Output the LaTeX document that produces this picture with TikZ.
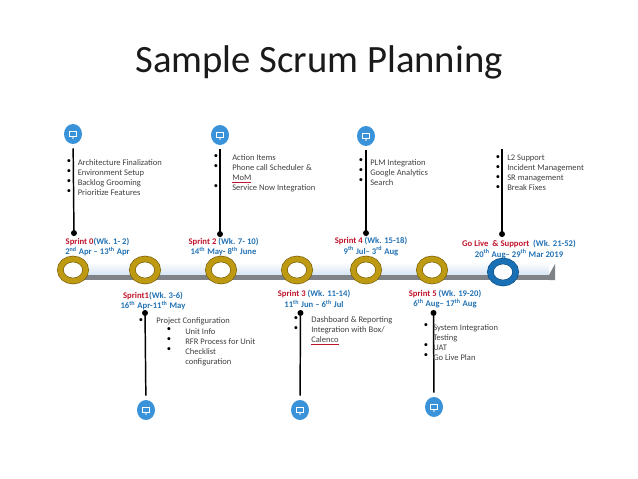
\documentclass[tikz,border=0pt]{standalone}
\usepackage{fontspec}
\setmainfont{Carlito}
\usepackage{tikz}
\usetikzlibrary{shapes.geometric,arrows.meta,positioning,calc}

\definecolor{sprintred}{HTML}{C0142C}
\definecolor{sprintblue}{HTML}{2272B4}
\definecolor{listgray}{HTML}{404040}
\definecolor{ringgold}{HTML}{7A6008}
\definecolor{ringlight}{HTML}{BD9A12}
\definecolor{ringblue}{HTML}{0B4F86}
\definecolor{ringsky}{HTML}{1A70B4}
\definecolor{iconblue}{HTML}{3A92D8}
\definecolor{barblue}{HTML}{D6E4F4}
\definecolor{bargray}{HTML}{7F8287}

\tikzset{
  ringnode/.style={ellipse,draw=ringgold,line width=.5pt,double=ringlight,double distance=3.9pt,fill=white,minimum width=19pt,minimum height=16.5pt,inner sep=0pt},
  goliveringnode/.style={ringnode,draw=ringblue,double=ringsky},
  iconnode/.style={ellipse,fill=iconblue,minimum width=13.5pt,minimum height=15pt,inner sep=0pt,
    path picture={
      \draw[white,line width=.45pt] ([xshift=-2.8pt,yshift=-1.6pt]path picture bounding box.center) rectangle ([xshift=2.8pt,yshift=2.4pt]path picture bounding box.center);
      \fill[white] ([yshift=-3pt]path picture bounding box.center) circle (.6pt);
    }},
  sprintline/.style={line width=1.1pt,black,-{Circle[length=4.4pt]},shorten <=3pt},
  sprintlabel/.style={font=\fontsize{6.5}{8}\selectfont\bfseries,text=sprintblue,align=center,inner sep=0pt},
  listtext/.style={font=\fontsize{6.4}{7.6}\selectfont,text=listgray,align=left,anchor=north west,inner sep=0pt},
  bulletmark/.style={font=\fontsize{6.4}{7.6}\selectfont,text=black,align=left,anchor=north,inner sep=0pt},
}
\newcommand{\redwave}[1]{\textcolor{sprintred}{\underline{\textcolor{listgray}{#1}}}}

\begin{document}
\begin{tikzpicture}[x=.75pt,y=-.75pt]
  \useasboundingbox (0,0) rectangle (638,478);
  \node (title) at (319,62) {\fontsize{29}{32}\selectfont\color[HTML]{1A1A1A}Sample Scrum Planning};

  % timeline bar
  \shade[top color=white,bottom color=barblue] (73,262) rectangle (549,275);
  \fill[bargray] (73,275) rectangle (555,280);
  \fill[bargray] (549,275) -- (555,264) -- (555,280) -- (549,280) -- cycle;

  % rings
  \node[ringnode] (ringzero) at (73,270) {};
  \node[ringnode] (ringone) at (145,270) {};
  \node[ringnode] (ringtwo) at (221,270) {};
  \node[ringnode] (ringthree) at (297,270) {};
  \node[ringnode] (ringfour) at (366,270) {};
  \node[ringnode] (ringfive) at (432,270) {};
  \node[goliveringnode] (ringlive) at (503,272) {};

  % icons and stems
  \node[iconnode] (iconzero) at (73,134) {};
  \node[iconnode] (icontwo) at (220,135) {};
  \node[iconnode] (iconfour) at (366,136) {};
  \node[iconnode] (iconone) at (146,410) {};
  \node[iconnode] (iconthree) at (300,410) {};
  \node[iconnode] (iconfive) at (434,407) {};
  \coordinate (topzero) at (74,236);
  \coordinate (toptwo) at (220,237);
  \coordinate (topfour) at (366,236);
  \coordinate (toplive) at (502,237);
  \coordinate (startlive) at (502,149);
  \coordinate (topone) at (145,310);
  \coordinate (topthree) at (300.5,310);
  \coordinate (topfive) at (433.5,310);
  \draw[sprintline] (iconzero) -- (topzero);
  \draw[sprintline] (icontwo) -- (toptwo);
  \draw[sprintline] (iconfour) -- (topfour);
  \draw[sprintline,shorten <=0pt] (startlive) -- (toplive);
  \draw[sprintline] (iconone) -- (topone);
  \draw[sprintline] (iconthree) -- (topthree);
  \draw[sprintline] (iconfive) -- (topfive);

  % sprint labels
  \node[sprintlabel] (sprintzero) at (97.5,247) {\textcolor{sprintred}{Sprint 0}(Wk. 1- 2)\\2\textsuperscript{nd} Apr -- 13\textsuperscript{th} Apr};
  \node[sprintlabel] (sprinttwo) at (223.5,247) {\textcolor{sprintred}{Sprint 2} (Wk. 7- 10)\\14\textsuperscript{th} May- 8\textsuperscript{th} June};
  \node[sprintlabel] (sprintfour) at (371,246.5) {\textcolor{sprintred}{Sprint 4} (Wk. 15-18)\\9\textsuperscript{th} Jul-- 3\textsuperscript{rd} Aug};
  \node[sprintlabel] (sprintlive) at (519,249.5) {\textcolor{sprintred}{Go Live\ \ \& Support} \ (Wk. 21-52)\\20\textsuperscript{th} Aug-- 29\textsuperscript{th} Mar 2019};
  \node[sprintlabel] (sprintone) at (153,301) {\textcolor{sprintred}{Sprint1}(Wk. 3-6)\\16\textsuperscript{th} Apr-11\textsuperscript{th} May};
  \node[sprintlabel] (sprintthree) at (314,299) {\textcolor{sprintred}{Sprint 3} (Wk. 11-14)\\11\textsuperscript{th} Jun -- 6\textsuperscript{th} Jul};
  \node[sprintlabel] (sprintfive) at (445,299) {\textcolor{sprintred}{Sprint 5} (Wk. 19-20)\\6\textsuperscript{th} Aug-- 17\textsuperscript{th} Aug};

  % task lists
  \node[bulletmark] (markszero) at (69,159) {\textbullet\\\textbullet\\\textbullet\\\textbullet};
  \node[listtext] (taskszero) at (77.5,159) {Architecture Finalization\\Environment Setup\\Backlog Grooming\\Prioritize Features};
  \node[bulletmark] (markstwo) at (216,154) {\textbullet\\\textbullet\\\mbox{}\\\textbullet};
  \node[listtext] (taskstwo) at (232,154) {Action Items\\Phone call Scheduler \&\\\redwave{MoM}\\Service Now Integration};
  \node[bulletmark] (marksfour) at (361,158) {\textbullet\\\textbullet\\\textbullet};
  \node[listtext] (tasksfour) at (370,159) {PLM Integration\\Google Analytics\\Search};
  \node[bulletmark] (markslive) at (498,155) {\textbullet\\\textbullet\\\textbullet\\\textbullet};
  \node[listtext] (taskslive) at (507,154.5) {L2 Support\\Incident Management\\SR management\\Break Fixes};
  \node[bulletmark] (marksone) at (141,318) {\textbullet};
  \node[listtext] (tasksone) at (156,317.5) {Project Configuration};
  \node[bulletmark] (markssub) at (169,327) {\textbullet\\\textbullet\\\textbullet};
  \node[listtext] (taskssub) at (185,328) {Unit Info\\RFR Process for Unit\\Checklist\\configuration};
  \node[bulletmark] (marksthree) at (296,316) {\textbullet\\\textbullet};
  \node[listtext] (tasksthree) at (311,316) {Dashboard \& Reporting\\Integration with Box/\\\redwave{Calenco}};
  \node[bulletmark] (marksfive) at (426,323) {\textbullet\\\mbox{}\\\textbullet\\\textbullet};
  \node[listtext] (tasksfive) at (433,324) {System Integration\\Testing\\UAT\\Go Live Plan};
\end{tikzpicture}
\end{document}
